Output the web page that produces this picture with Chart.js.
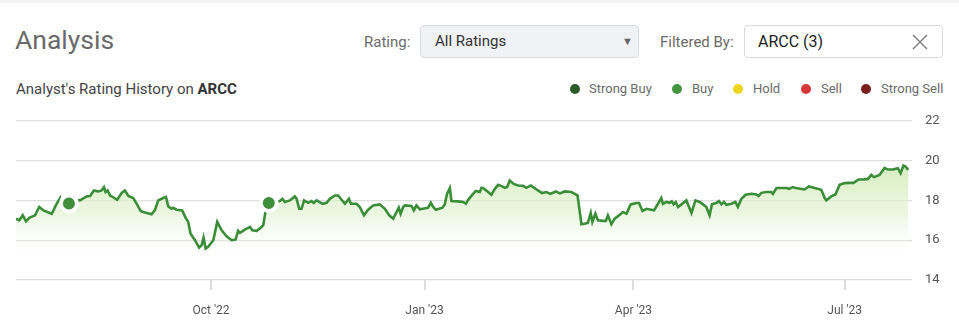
<!DOCTYPE html>
<html>
<head>
<meta charset="utf-8">
<script src="https://cdn.jsdelivr.net/npm/chart.js@4.4.0/dist/chart.umd.min.js"></script>
<style>
  html, body { margin:0; padding:0; background:#fff; }
  body { width:959px; height:327px; overflow:hidden; position:relative; font-family:Roboto, "Noto Sans", sans-serif; }
  .abs { position:absolute; white-space:nowrap; }
  .topbar { left:0; top:0; width:959px; height:3px; background:#f4f2f0; }
  .title { left:15px; top:25px; font-size:26.5px; line-height:30px; color:#6a6a6a; }
  .lbl { font-size:15px; color:#6b6b6b; height:32px; line-height:32px; top:26px; }
  .select { left:420px; top:25px; width:217px; height:31px; background:#f1f2f5; border:1px solid #d8dadf; border-radius:4px; }
  .select span { position:absolute; left:14px; top:0; line-height:31px; font-size:15px; color:#333; }
  .select i { position:absolute; right:5px; top:0; line-height:31px; font-size:11px; color:#666; font-style:normal; }
  .input { left:744px; top:25px; width:197px; height:31px; background:#fff; border:1px solid #d8dadf; border-radius:4px; }
  .input span { position:absolute; left:13px; top:0; line-height:31px; font-size:16px; color:#222; }
  .input svg { position:absolute; left:167px; top:8px; }
  .sub { left:16px; top:80px; font-size:15px; line-height:18px; color:#444; }
  .sub b { color:#333; }
  .leg { top:80px; font-size:13px; line-height:18px; color:#6b6b6b; }
  .dot { width:10px; height:10px; border-radius:50%; top:84px; }
  #wrap { position:absolute; left:0; top:100px; width:959px; height:227px; }
</style>
</head>
<body>
<div class="abs topbar"></div>
<div class="abs title">Analysis</div>
<div class="abs lbl" style="left:364px;">Rating:</div>
<div class="abs select"><span>All Ratings</span><i>▼</i></div>
<div class="abs lbl" style="left:660px;">Filtered By:</div>
<div class="abs input"><span>ARCC (3)</span>
  <svg width="16" height="16" viewBox="0 0 16 16"><path d="M1 1 L15 15 M15 1 L1 15" stroke="#777" stroke-width="1.3" fill="none"/></svg>
</div>
<div class="abs sub">Analyst's Rating History on <b>ARCC</b></div>
<div id="legend"></div>
<div id="wrap"><canvas id="c"></canvas></div>
<script>
// ---- data ----
const legendNames = ["Strong Buy", "Buy", "Hold", "Sell", "Strong Sell"];
const legendColors = ["#2b5b27", "#43953f", "#ecd51b", "#d63737", "#7d1e1e"];

const tickDays = [92, 184, 274, 365];            // days since 1 Jul 2022
const tickLabels = ["Oct '22", "Jan '23", "Apr '23", "Jul '23"];
const yTicks = [14, 16, 18, 20, 22];

const days = [
  8.0, 9.4, 10.9, 12.3, 13.7, 16.2, 18.0, 19.8, 23.4, 25.5, 27.0, 27.9, 30.8, 34.7, 35.6, 38.4, 39.9, 41.6, 43.4, 44.9,
  45.9, 46.6, 47.5, 48.5, 51.6, 53.5, 54.9, 56.4, 58.5, 60.0, 61.7, 62.8, 66.4, 67.9, 69.3, 71.4, 72.6, 73.6, 75.0, 75.7,
  77.2, 79.6, 81.1, 82.2, 83.2, 85.1, 86.9, 88.0, 88.8, 89.7, 90.8, 93.0, 94.7, 96.6, 98.7, 100.9, 102.6, 103.7, 104.5, 106.6,
  108.8, 109.8, 111.7, 113.4, 114.5, 115.5, 116.9, 120.8, 121.7, 122.8, 123.8, 126.0, 128.1, 128.9, 130.0, 131.0, 132.1, 133.9, 135.3, 136.3,
  137.5, 140.1, 141.8, 143.2, 145.4, 146.8, 149.7, 151.4, 152.3, 154.7, 156.1, 157.9, 159.7, 161.9, 164.7, 166.9, 168.8, 170.5, 172.9, 173.7,
  174.8, 175.5, 178.4, 179.4, 180.5, 182.0, 184.9, 185.5, 186.7, 187.7, 188.9, 191.7, 192.7, 193.7, 194.9, 195.6, 198.5, 200.6, 201.8, 202.8,
  204.9, 206.1, 207.8, 208.5, 209.2, 211.4, 212.8, 214.3, 215.7, 217.2, 218.6, 219.6, 220.7, 222.4, 224.3, 226.4, 227.9, 229.8, 230.8, 232.9,
  234.6, 236.5, 238.2, 240.5, 242.3, 244.4, 247.3, 248.7, 249.9, 251.6, 253.0, 254.4, 255.6, 256.3, 257.6, 258.7, 260.9, 262.1, 263.0, 264.5,
  265.9, 268.1, 269.5, 271.0, 272.8, 275.3, 276.4, 277.9, 279.6, 282.9, 285.0, 286.0, 286.7, 288.2, 289.6, 290.5, 291.3, 292.2, 293.2, 294.7,
  296.8, 299.0, 300.7, 302.5, 304.0, 305.4, 306.8, 307.8, 309.7, 310.8, 311.9, 313.0, 314.0, 316.2, 317.9, 319.0, 320.5, 322.3, 324.8, 327.0,
  327.9, 329.1, 331.3, 333.4, 334.1, 335.6, 337.7, 339.9, 341.0, 342.7, 343.4, 347.7, 349.6, 352.1, 354.9, 356.4, 357.1, 359.2, 361.0, 362.8,
  365.0, 367.1, 368.8, 371.0, 372.9, 375.0, 376.5, 377.6, 380.0, 382.2, 383.6, 385.8, 387.9, 389.1, 390.3, 391.2, 392.4
];
const prices = [
  17.08, 17.00, 17.25, 16.95, 17.12, 17.25, 17.67, 17.50, 17.33, 17.83, 18.12, 17.60, 17.85, 18.02, 18.00, 18.20, 18.22, 18.50, 18.45, 18.50,
  18.67, 18.42, 18.50, 18.25, 18.03, 18.37, 18.50, 18.22, 18.12, 17.83, 17.47, 17.42, 17.30, 17.53, 18.00, 18.12, 18.17, 17.70, 17.58, 17.63,
  17.53, 17.50, 17.12, 16.92, 16.33, 16.00, 15.63, 15.75, 16.13, 15.58, 15.67, 16.00, 16.92, 16.50, 16.20, 16.00, 16.03, 16.47, 16.37, 16.53,
  16.67, 16.50, 16.47, 16.63, 16.75, 17.45, 17.87, 17.92, 17.97, 18.08, 17.92, 18.00, 18.20, 18.08, 17.58, 17.58, 18.00, 17.88, 17.97, 17.87,
  18.00, 17.83, 17.88, 18.08, 18.25, 18.25, 17.83, 18.08, 17.83, 17.83, 17.67, 17.25, 17.53, 17.75, 17.80, 17.58, 17.25, 17.08, 17.63, 17.33,
  17.67, 17.75, 17.72, 17.50, 17.75, 17.55, 17.62, 17.63, 17.88, 17.67, 17.53, 17.63, 17.80, 18.33, 18.62, 17.97, 17.95, 17.92, 17.83, 18.03,
  18.33, 18.47, 18.42, 18.63, 18.62, 18.42, 18.28, 18.58, 18.78, 18.72, 18.63, 18.67, 19.00, 18.83, 18.75, 18.73, 18.63, 18.75, 18.67, 18.50,
  18.37, 18.42, 18.33, 18.45, 18.35, 18.45, 18.42, 18.33, 18.25, 16.80, 16.83, 16.88, 17.37, 16.92, 17.33, 17.00, 16.97, 16.97, 17.25, 16.80,
  17.08, 17.28, 17.42, 17.33, 17.80, 17.87, 17.87, 17.47, 17.58, 17.50, 17.92, 18.12, 17.83, 17.92, 17.88, 17.95, 17.80, 17.92, 17.67, 17.80,
  18.00, 17.37, 18.00, 17.92, 17.80, 17.67, 17.25, 17.80, 17.87, 17.97, 17.80, 17.92, 17.78, 17.83, 17.92, 17.67, 18.08, 18.28, 18.33, 18.30,
  18.22, 18.38, 18.42, 18.42, 18.33, 18.62, 18.62, 18.62, 18.58, 18.67, 18.63, 18.55, 18.70, 18.62, 18.53, 18.12, 18.00, 18.20, 18.30, 18.78,
  18.87, 18.88, 18.88, 19.05, 19.05, 19.08, 19.28, 19.17, 19.28, 19.63, 19.55, 19.55, 19.62, 19.37, 19.75, 19.70, 19.53
];
const ratingDays = [30.8, 116.9];
const ratingValues = [17.85, 17.87];
const ratingKind = ["Buy", "Buy"];

// ---- legend (HTML) ----
const legDotX = [575, 677, 738, 806, 866];
const legTextX = [589, 692, 753, 821, 881];
const legEl = document.getElementById('legend');
legendNames.forEach((n, i) => {
  const d = document.createElement('div');
  d.className = 'abs dot';
  d.style.left = (legDotX[i] - 5) + 'px';
  d.style.background = legendColors[i];
  legEl.appendChild(d);
  const t = document.createElement('div');
  t.className = 'abs leg';
  t.style.left = legTextX[i] + 'px';
  t.textContent = n;
  legEl.appendChild(t);
});

// ---- chart ----
Chart.defaults.font.family = 'Roboto';
const lineData = days.map((d, i) => ({ x: d, y: prices[i] }));
const dotData = ratingDays.map((d, i) => ({ x: d, y: ratingValues[i] }));
const dotColor = legendColors[legendNames.indexOf("Buy")];

new Chart(document.getElementById('c'), {
  type: 'line',
  data: {
    datasets: [
      {
        type: 'scatter',
        data: dotData,
        order: 0,
        pointRadius: 8,
        pointBorderWidth: 4,
        pointBackgroundColor: '#3e8e3a',
        pointBorderColor: '#ffffff',
        showLine: false
      },
      {
        data: lineData,
        order: 1,
        borderColor: '#3a8e38',
        borderWidth: 2.6,
        pointRadius: 0,
        tension: 0,
        fill: 'start',
        backgroundColor: (ctx) => {
          const chart = ctx.chart;
          const area = chart.chartArea;
          if (!area) return 'rgba(0,0,0,0)';
          const ys = chart.scales.y;
          const g = chart.ctx.createLinearGradient(0, ys.getPixelForValue(20.5), 0, ys.getPixelForValue(15));
          g.addColorStop(0, 'rgba(200,230,165,0.85)');
          g.addColorStop(0.6, 'rgba(225,242,210,0.6)');
          g.addColorStop(1, 'rgba(255,255,255,0)');
          return g;
        }
      }
    ]
  },
  options: {
    responsive: true,
    maintainAspectRatio: false,
    animation: false,
    layout: { padding: { top: 20, left: 16, right: 0, bottom: 0 } },
    plugins: { legend: { display: false }, tooltip: { enabled: false } },
    scales: {
      x: {
        type: 'linear',
        min: 8,
        max: 394,
        afterFit: (s) => { s.height = 47; },
        afterBuildTicks: (s) => { s.ticks = tickDays.map(v => ({ value: v })); },
        border: { display: false },
        grid: { drawOnChartArea: false, drawTicks: true, tickLength: 10, color: '#dcdcdc', lineWidth: 2 },
        ticks: {
          autoSkip: false, maxRotation: 0, padding: 14,
          color: '#555', font: { size: 12 },
          callback: (v) => { const i = tickDays.indexOf(v); return i >= 0 ? tickLabels[i] : ''; }
        }
      },
      y: {
        position: 'right',
        min: 14,
        max: 22,
        afterFit: (s) => { s.width = 47; },
        afterBuildTicks: (s) => { s.ticks = yTicks.map(v => ({ value: v })); },
        border: { display: false },
        grid: { drawTicks: false, color: '#dedede', lineWidth: 1.2 },
        ticks: { padding: 13, crossAlign: 'near', color: '#555', font: { size: 13 } }
      }
    }
  }
});
</script>
</body>
</html>
